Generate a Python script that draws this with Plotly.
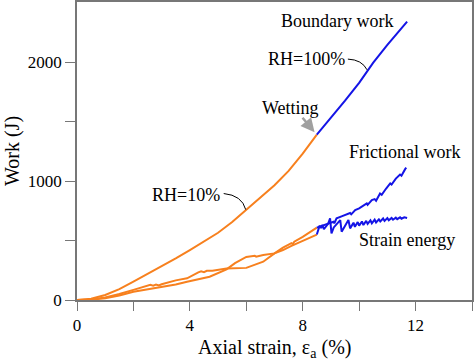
import plotly.graph_objects as go

# Boundary work
bw_dry_x = [0, 0.5, 1, 1.5, 2, 2.5, 3, 3.5, 4, 4.5, 5, 5.5, 6, 6.5, 7, 7.5, 8, 8.5]
bw_dry_y = [0, 10, 42, 92, 154, 218, 285, 350, 420, 490, 565, 655, 756, 860, 965, 1085, 1230, 1390]
bw_wet_x = [8.5, 9.0, 9.5, 10.0, 10.28, 10.5, 11.0, 11.5, 11.7]
bw_wet_y = [1390, 1530, 1675, 1825, 1925, 1995, 2145, 2285, 2340]

# Frictional work
fw_dry_x = [0, 0.5, 1, 1.5, 2, 2.5, 2.6, 2.7, 2.8, 2.9, 3.0, 3.5, 3.9, 4.3, 4.4, 4.5, 4.6,
            4.8, 5.3, 6.0, 6.6, 7.0, 7.3, 7.6, 7.65, 7.7, 8.0, 8.5]
fw_dry_y = [0, 5, 22, 50, 85, 122, 128, 120, 130, 122, 132, 165, 182, 232, 242, 234, 246,
            246, 264, 270, 322, 392, 440, 478, 470, 490, 530, 608]
fw_wet_x = [8.5, 8.7, 8.9, 9.09, 9.12, 9.2, 9.4, 9.6, 9.68, 9.72, 9.86, 10.0, 10.15, 10.27, 10.3,
            10.45, 10.55, 10.6, 10.74, 10.8, 10.95, 11.1, 11.15, 11.3, 11.45, 11.5, 11.63, 11.67]
fw_wet_y = [608, 625, 640, 658, 645, 686, 705, 725, 731, 720, 756, 770, 790, 812, 800,
            840, 848, 835, 896, 885, 935, 980, 970, 1020, 1055, 1045, 1100, 1112]

# Strain energy
se_dry_x = [0, 0.5, 1, 1.5, 2, 2.5, 3.0, 3.5, 3.9, 4.3, 4.7, 5.3, 5.6, 6.0, 6.3, 6.35, 6.6,
            7.0, 7.3, 7.6, 8.0, 8.5]
se_dry_y = [0, 3, 14, 38, 70, 88, 106, 130, 154, 175, 196, 258, 310, 362, 372, 364, 378,
            392, 420, 455, 495, 550]
se_wet_x = [8.5, 8.55, 8.6, 8.65, 8.7, 8.75, 8.8, 8.9, 8.97, 9.02, 9.1, 9.2, 9.33, 9.38, 9.5,
            9.62, 9.68, 9.8, 9.85, 9.95, 10.0, 10.1, 10.15, 10.25, 10.3, 10.4, 10.45, 10.55,
            10.6, 10.7, 10.75, 10.85, 10.9, 11.0, 11.05, 11.15, 11.2, 11.3, 11.35, 11.45,
            11.5, 11.6, 11.7]
se_wet_y = [550, 600, 625, 605, 630, 595, 610, 640, 686, 560, 610, 640, 672, 574, 620,
            672, 602, 650, 615, 655, 625, 660, 630, 665, 640, 670, 645, 675,
            652, 678, 660, 685, 665, 688, 670, 690, 675, 692, 680, 695,
            683, 695, 690]

x_tickvals = [0, 2, 4, 6, 8, 10, 12, 14]
x_ticktext = ["0", "", "4", "", "8", "", "12", ""]
y_tickvals = [0, 500, 1000, 1500, 2000]
y_ticktext = ["0", "", "1000", "", "2000"]

ORANGE = "#F7801E"
BLUE = "#1414E6"
FONT = "Liberation Serif"

fig = go.Figure()
for xs, ys, col in [
    (bw_dry_x, bw_dry_y, ORANGE), (bw_wet_x, bw_wet_y, BLUE),
    (fw_dry_x, fw_dry_y, ORANGE), (fw_wet_x, fw_wet_y, BLUE),
    (se_dry_x, se_dry_y, ORANGE), (se_wet_x, se_wet_y, BLUE),
]:
    fig.add_trace(go.Scatter(x=xs, y=ys, mode="lines",
                             line=dict(color=col, width=2), showlegend=False,
                             hoverinfo="skip"))

ann_font = dict(family=FONT, size=18, color="black")
annots = [
    dict(text="Boundary work", x=9.2, y=2345),
    dict(text="RH=100%", x=8.12, y=2030),
    dict(text="Wetting", x=7.55, y=1612),
    dict(text="Frictional work", x=11.6, y=1240),
    dict(text="Strain energy", x=11.7, y=505),
    dict(text="RH=10%", x=3.85, y=885),
]
for a in annots:
    fig.add_annotation(x=a["x"], y=a["y"], xref="x", yref="y", text=a["text"],
                       showarrow=False, font=ann_font)

# axis titles
fig.add_annotation(xref="paper", yref="paper", x=0.5, y=0, yanchor="top", yshift=-34,
                   text="Axial strain, ε<sub>a</sub> (%)", showarrow=False,
                   font=dict(family=FONT, size=20, color="black"))
fig.add_annotation(xref="paper", yref="paper", x=0, y=0.5, xanchor="center",
                   xshift=-65, textangle=-90, text="Work (J)", showarrow=False,
                   font=dict(family=FONT, size=20, color="black"))

# leader lines
fig.add_shape(type="path", xref="x", yref="y",
              path="M 9.6 2025 Q 10.1 2020 10.28 1935",
              line=dict(color="black", width=1))
fig.add_shape(type="path", xref="x", yref="y",
              path="M 5.2 895 Q 5.85 880 5.98 760",
              line=dict(color="black", width=1))
# wetting arrow
fig.add_annotation(x=8.42, y=1410, ax=7.95, ay=1545, xref="x", yref="y",
                   axref="x", ayref="y", text="", showarrow=True,
                   arrowhead=2, arrowsize=1.1, arrowwidth=2.5, arrowcolor="#A0A0A0")

fig.update_layout(
    width=474, height=361,
    margin=dict(l=77, r=2, t=2, b=61, autoexpand=False),
    plot_bgcolor="white", paper_bgcolor="white",
    font=dict(family=FONT, size=16, color="black"),
    xaxis=dict(range=[0, 14], tickvals=x_tickvals, ticktext=x_ticktext,
               ticks="outside", ticklen=9, tickcolor="#777", tickwidth=1,
               showline=True, linecolor="#777", linewidth=1.5, mirror=True,
               showgrid=False, zeroline=False, automargin=False,
               tickfont=dict(family=FONT, size=17)),
    yaxis=dict(range=[0, 2505], tickvals=y_tickvals, ticktext=y_ticktext,
               ticks="outside", ticklen=10, tickcolor="#777", tickwidth=1,
               showline=True, linecolor="#777", linewidth=1.5, mirror=True,
               showgrid=False, zeroline=False, automargin=False,
               tickfont=dict(family=FONT, size=17)),
)

fig.write_html("out.html", config={"displayModeBar": False},
               post_script="document.body.style.margin='0';document.body.style.overflow='hidden';")
